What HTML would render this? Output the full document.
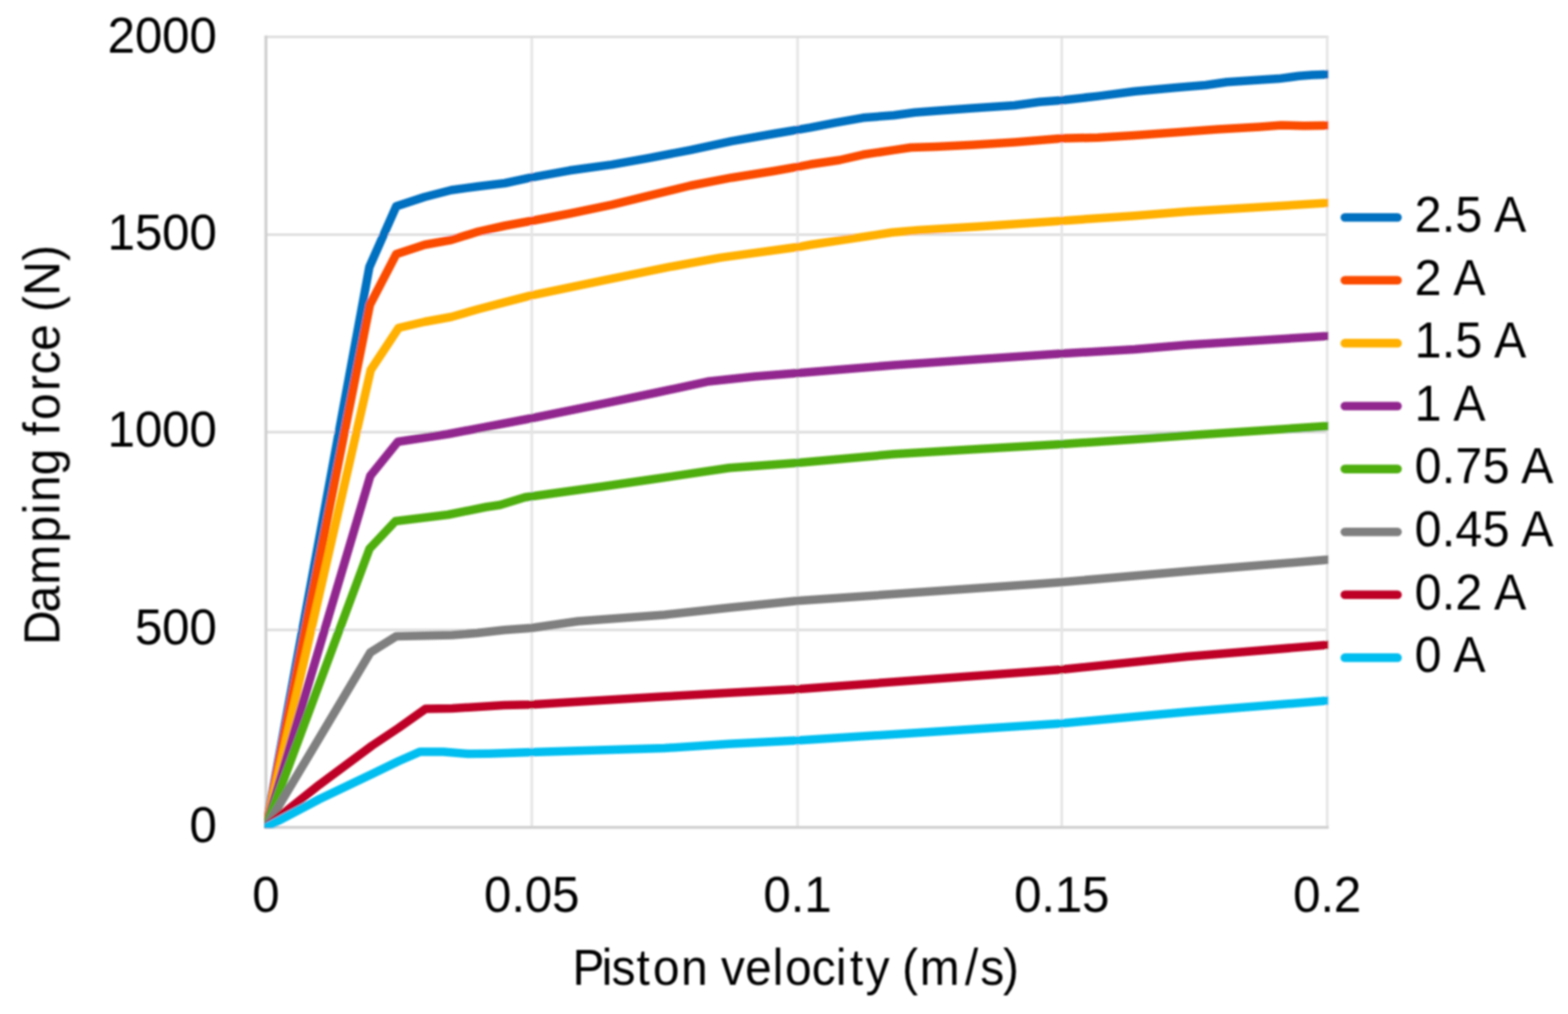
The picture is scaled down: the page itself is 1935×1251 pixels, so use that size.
<!DOCTYPE html>
<html lang="en">
<head>
<meta charset="utf-8">
<title>Damping force vs piston velocity</title>
<style>
html,body{margin:0;padding:0;background:#fff;}
body{width:1935px;height:1251px;overflow:hidden;}
svg{display:block;}
text{font-family:"Liberation Sans", sans-serif;fill:#000;}
.c{fill:none;stroke-linejoin:round;stroke-linecap:butt;stroke-width:10.5;}
.l{fill:none;stroke-linecap:round;stroke-width:10.6;}
</style>
</head>
<body>
<svg width="1935" height="1251" viewBox="0 0 1935 1251">
<defs><clipPath id="plot"><rect x="326.3" y="40" width="1312.9" height="981.8"/></clipPath><filter id="soft" x="-5%" y="-5%" width="110%" height="110%"><feGaussianBlur stdDeviation="0.9"/></filter></defs>
<rect x="0" y="0" width="1935" height="1251" fill="#fff"/>
<g filter="url(#soft)">
<g stroke-width="3.2" fill="none">
<line x1="328.20" y1="777.10" x2="1637.90" y2="777.10" stroke="#DDDDDD"/>
<line x1="328.20" y1="533.20" x2="1637.90" y2="533.20" stroke="#DDDDDD"/>
<line x1="328.20" y1="289.50" x2="1637.90" y2="289.50" stroke="#DDDDDD"/>
<line x1="656.20" y1="45.50" x2="656.20" y2="1020.80" stroke="#E5E5E5"/>
<line x1="984.20" y1="45.50" x2="984.20" y2="1020.80" stroke="#E5E5E5"/>
<line x1="1310.30" y1="45.50" x2="1310.30" y2="1020.80" stroke="#E5E5E5"/>
<line x1="328.20" y1="45.50" x2="1637.90" y2="45.50" stroke="#DDDDDD" stroke-linecap="square"/>
<line x1="1637.90" y1="45.50" x2="1637.90" y2="1020.80" stroke="#E5E5E5"/>
</g>
<path d="M328.20 45.50 V1020.80 H1637.90" stroke="#CFCFCF" stroke-width="3.6" fill="none" stroke-linecap="square"/>
<g clip-path="url(#plot)">
<path class="c" stroke="#0070C0" d="M326.6 1029.7 L328.2 1020.8 L455.8 329.5 L489.0 254.5 L524.0 243.0 L557.0 234.5 L590.0 230.0 L623.0 226.0 L656.0 218.8 L703.0 210.3 L755.0 203.1 L800.0 195.1 L852.0 185.1 L903.0 174.2 L955.0 165.0 L984.0 160.1 L1000.0 157.4 L1031.0 151.4 L1065.0 145.3 L1103.0 142.2 L1129.0 138.8 L1155.0 136.7 L1200.0 133.4 L1252.0 130.0 L1283.0 125.8 L1310.0 123.7 L1355.0 118.6 L1400.0 112.7 L1452.0 107.9 L1488.0 105.0 L1514.0 101.2 L1555.0 98.6 L1578.0 97.1 L1603.0 93.8 L1619.0 92.4 L1642.0 91.6"/>
<path class="c" stroke="#FA4B00" d="M326.4 1029.6 L328.2 1020.8 L456.5 376.0 L489.0 313.5 L524.0 302.0 L557.0 296.0 L590.0 285.8 L623.0 278.5 L656.0 272.5 L703.0 263.5 L755.0 252.7 L800.0 241.7 L852.0 229.0 L903.0 219.2 L955.0 211.0 L984.0 205.8 L1000.0 202.8 L1036.0 197.5 L1065.0 190.8 L1103.0 185.1 L1124.0 182.0 L1155.0 181.0 L1200.0 178.7 L1252.0 175.4 L1310.0 170.8 L1355.0 169.7 L1400.0 167.0 L1452.0 163.2 L1503.0 159.6 L1555.0 156.5 L1581.0 154.6 L1609.0 155.2 L1642.0 154.6"/>
<path class="c" stroke="#FFB000" d="M326.2 1029.6 L328.2 1020.8 L457.5 456.5 L492.0 404.5 L524.0 397.0 L557.0 391.0 L590.0 381.5 L623.0 372.8 L656.0 364.4 L745.0 345.8 L827.0 329.2 L889.0 317.9 L984.5 304.8 L1000.0 302.0 L1101.0 286.8 L1133.0 284.0 L1207.0 279.6 L1310.0 272.4 L1400.0 266.2 L1465.0 261.0 L1642.0 250.2"/>
<path class="c" stroke="#92278F" d="M325.6 1029.4 L328.2 1020.8 L457.0 587.0 L491.0 545.0 L553.0 535.5 L656.0 516.0 L745.0 497.8 L807.0 485.0 L873.0 470.8 L931.0 464.5 L984.5 460.2 L1103.0 450.5 L1207.0 443.3 L1310.0 436.2 L1400.0 431.0 L1465.0 425.5 L1642.0 414.4"/>
<path class="c" stroke="#4EAE0C" d="M325.1 1029.2 L328.2 1020.8 L456.0 677.0 L488.0 643.0 L553.0 635.0 L600.0 625.5 L617.0 623.0 L648.0 613.5 L745.0 600.0 L807.0 591.0 L900.0 577.3 L984.5 570.9 L1103.0 560.3 L1207.0 554.0 L1310.0 548.0 L1400.0 542.0 L1465.0 537.2 L1642.0 525.5"/>
<path class="c" stroke="#7F7F7F" d="M323.6 1028.5 L328.2 1020.8 L457.0 805.0 L489.0 785.0 L524.0 784.3 L558.0 783.5 L589.0 781.0 L622.0 777.3 L656.0 774.7 L713.0 766.5 L820.0 758.5 L900.0 749.8 L984.0 741.3 L1280.0 720.4 L1310.0 718.2 L1465.0 704.8 L1642.0 690.2"/>
<path class="c" stroke="#BE0028" d="M321.2 1026.4 L328.2 1020.8 L394.0 968.2 L459.0 920.0 L492.0 898.0 L525.0 874.6 L558.0 874.0 L622.0 870.0 L656.0 869.2 L820.0 859.3 L900.0 854.8 L984.0 850.2 L1280.0 828.2 L1310.0 826.0 L1465.0 810.0 L1642.0 795.3"/>
<path class="c" stroke="#00BEF0" d="M320.2 1025.0 L328.2 1020.8 L394.0 986.0 L459.0 955.0 L492.0 939.0 L518.0 927.6 L547.0 927.6 L578.0 930.1 L604.0 929.7 L656.0 928.1 L820.0 923.0 L900.0 917.8 L984.0 913.5 L1280.0 894.5 L1310.0 892.5 L1465.0 878.2 L1642.0 864.2"/>
</g>
<line class="l" x1="1659.6" y1="268.20" x2="1724.6" y2="268.20" stroke="#0070C0"/>
<line class="l" x1="1659.6" y1="345.80" x2="1724.6" y2="345.80" stroke="#FA4B00"/>
<line class="l" x1="1659.6" y1="423.40" x2="1724.6" y2="423.40" stroke="#FFB000"/>
<line class="l" x1="1659.6" y1="501.00" x2="1724.6" y2="501.00" stroke="#92278F"/>
<line class="l" x1="1659.6" y1="578.60" x2="1724.6" y2="578.60" stroke="#4EAE0C"/>
<line class="l" x1="1659.6" y1="656.20" x2="1724.6" y2="656.20" stroke="#7F7F7F"/>
<line class="l" x1="1659.6" y1="733.80" x2="1724.6" y2="733.80" stroke="#BE0028"/>
<line class="l" x1="1659.6" y1="811.40" x2="1724.6" y2="811.40" stroke="#00BEF0"/>
<text transform="translate(1745.50 286.00) scale(0.9500 1)" font-size="62.8" x="0.23 35.45 53.20 87.52 103.39" y="0">2.5 A</text>
<text transform="translate(1745.50 363.60) scale(0.9500 1)" font-size="62.8" x="0.23 34.55 50.42" y="0">2 A</text>
<text transform="translate(1745.50 441.20) scale(0.9500 1)" font-size="62.8" x="0.23 35.45 53.20 87.52 103.39" y="0">1.5 A</text>
<text transform="translate(1745.50 518.80) scale(0.9500 1)" font-size="62.8" x="0.23 34.55 50.42" y="0">1 A</text>
<text transform="translate(1745.50 596.40) scale(0.9500 1)" font-size="62.8" x="0.23 35.45 53.20 88.58 122.90 138.77" y="0">0.75 A</text>
<text transform="translate(1745.50 674.00) scale(0.9500 1)" font-size="62.8" x="0.23 35.45 53.20 88.58 122.90 138.77" y="0">0.45 A</text>
<text transform="translate(1745.50 751.60) scale(0.9500 1)" font-size="62.8" x="0.23 35.45 53.20 87.52 103.39" y="0">0.2 A</text>
<text transform="translate(1745.50 829.20) scale(0.9500 1)" font-size="62.8" x="0.23 34.55 50.42" y="0">0 A</text>
<text transform="translate(233.79 1038.80) scale(0.9700 1)" font-size="62.8" x="-0.14" y="0">0</text>
<text transform="translate(166.56 795.10) scale(0.9700 1)" font-size="62.8" x="-0.14 34.52 69.17" y="0">500</text>
<text transform="translate(132.94 551.20) scale(0.9700 1)" font-size="62.8" x="-0.14 34.52 69.17 103.82" y="0">1000</text>
<text transform="translate(132.94 308.00) scale(0.9700 1)" font-size="62.8" x="-0.14 34.52 69.17 103.82" y="0">1500</text>
<text transform="translate(132.94 64.50) scale(0.9700 1)" font-size="62.8" x="-0.14 34.52 69.17 103.82" y="0">2000</text>
<text transform="translate(311.39 1125.00) scale(0.9700 1)" font-size="62.8" x="-0.14" y="0">0</text>
<text transform="translate(597.43 1125.00) scale(0.9700 1)" font-size="62.8" x="-0.14 34.54 51.74 86.40" y="0">0.05</text>
<text transform="translate(942.23 1125.00) scale(0.9700 1)" font-size="62.8" x="-0.14 34.54 51.74" y="0">0.1</text>
<text transform="translate(1251.53 1125.00) scale(0.9700 1)" font-size="62.8" x="-0.14 34.54 51.74 86.40" y="0">0.15</text>
<text transform="translate(1595.93 1125.00) scale(0.9700 1)" font-size="62.8" x="-0.14 34.54 51.74" y="0">0.2</text>
<text transform="translate(707.10 1215.20) scale(0.9400 1)" font-size="62.8" x="-0.58 37.56 50.71 83.28 104.94 142.04 177.27 194.20 225.94 262.07 278.24 313.51 345.23 363.37 384.18 415.10 432.03 455.19 514.41 534.84 564.55" y="0">Piston velocity (m/s)</text>
<text transform="translate(73.30 795.90) rotate(-90) scale(0.9400 1)" font-size="62.8" x="0.40 42.81 79.18 134.57 171.65 187.75 222.87 256.19 274.92 295.52 333.42 355.40 386.12 420.39 437.32 458.56 504.25" y="0">Damping force (N)</text>
</g>
</svg>
</body>
</html>
